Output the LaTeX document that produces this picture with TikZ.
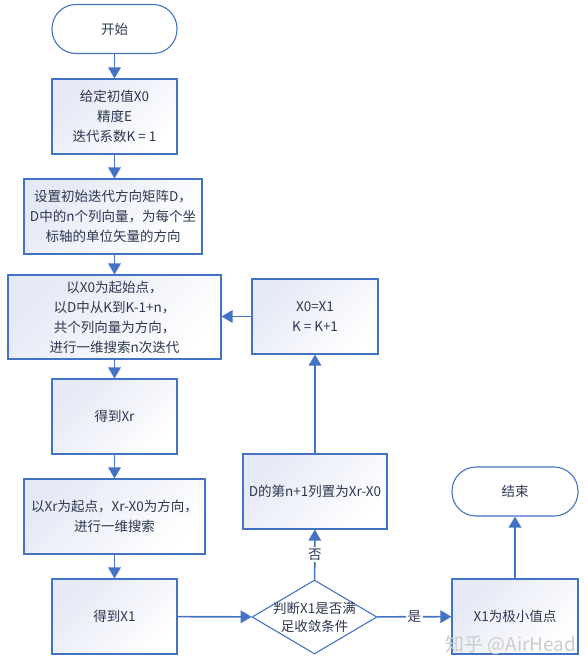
\documentclass[tikz,border=0pt]{standalone}
\usepackage{fontspec}
\setmainfont{Noto Sans CJK SC}
\usetikzlibrary{arrows.meta,shapes.geometric}
\definecolor{lineblue}{RGB}{68,114,196}
\definecolor{boxtop}{RGB}{229,232,246}
\definecolor{txtc}{RGB}{45,55,80}

\begin{document}
\begin{tikzpicture}[x=1pt,y=-1pt,font=\fontsize{13.5}{20}\selectfont,
  every node/.style={text=txtc},
  proc/.style={draw=lineblue,line width=1.1pt,top color=boxtop,bottom color=white,shading angle=45,
    inner sep=2pt,align=center},
  term/.style={draw=lineblue,line width=1.1pt,fill=white,rounded corners=24pt,minimum width=125pt,minimum height=49pt},
  dec/.style={draw=lineblue,line width=1.1pt,fill=white,diamond,inner sep=0pt,minimum width=125pt,minimum height=74pt},
  arr/.style={draw=lineblue,line width=1.6pt,-{Triangle[width=12.5pt,length=11pt]}},
  lbl/.style={fill=white,inner sep=1.5pt}]
\useasboundingbox (0,0) rectangle (588,670);
\node[term] (start) at (114.5,29) {开始};
\node[proc,minimum width=125pt,minimum height=75pt] (init) at (114.5,116.5) {给定初值X0\\精度E\\迭代系数K = 1};
\node[proc,minimum width=178pt,minimum height=75pt] (dirs) at (113,216.5) {设置初始迭代方向矩阵D，\\D中的n个列向量，为每个坐\\标轴的单位矢量的方向};
\node[proc,minimum width=213pt,minimum height=84pt] (search) at (114.5,317) {以X0为起始点，\\以D中从K到K-1+n，\\共个列向量为方向，\\进行一维搜索n次迭代};
\node[proc,minimum width=125pt,minimum height=75pt] (xr) at (114.5,416.5) {得到Xr};
\node[proc,minimum width=181pt,minimum height=75pt] (linesearch) at (114.5,516.5) {以Xr为起点，Xr-X0为方向，\\进行一维搜索};
\node[proc,minimum width=125pt,minimum height=75pt] (xone) at (114.5,616.5) {得到X1};
\node[dec] (judge) at (314.5,617) {};
\node[align=center,font=\fontsize{13.5}{18}\selectfont] (judgetxt) at (judge) {判断X1是否满\\足收敛条件};
\node[proc,minimum width=144pt,minimum height=75pt] (newcol) at (315,491.5) {D的第n+1列置为Xr-X0};
\node[proc,minimum width=126pt,minimum height=75pt] (update) at (315,316.5) {X0=X1\\K = K+1};
\node[proc,minimum width=126pt,minimum height=75pt] (minpt) at (515,616.5) {X1为极小值点};
\node[term,minimum width=126pt] (stop) at (515,491.5) {结束};
% watermark
\node[text=black!20,font=\fontsize{19}{19}\selectfont,inner sep=0pt] (mark) at (511,645) {知乎 @AirHead};

\draw[arr] (start) -- (init);
\draw[arr] (init) -- (dirs.north -| init);
\draw[arr] (dirs.south -| init) -- (search.north -| init);
\draw[arr] (search.south -| xr) -- (xr);
\draw[arr] (xr) -- (linesearch.north -| xr);
\draw[arr] (linesearch.south -| xr) -- (xone);
\draw[arr] (xone) -- (judge);
\draw[arr] (judge) -- node[lbl] {是} (minpt);
\draw[arr] (judge) -- node[lbl] {否} (newcol);
\draw[arr] (newcol) -- (update);
\draw[arr] (update) -- (update.west -| search.east);
\draw[arr] (minpt) -- (stop);
\end{tikzpicture}
\end{document}
